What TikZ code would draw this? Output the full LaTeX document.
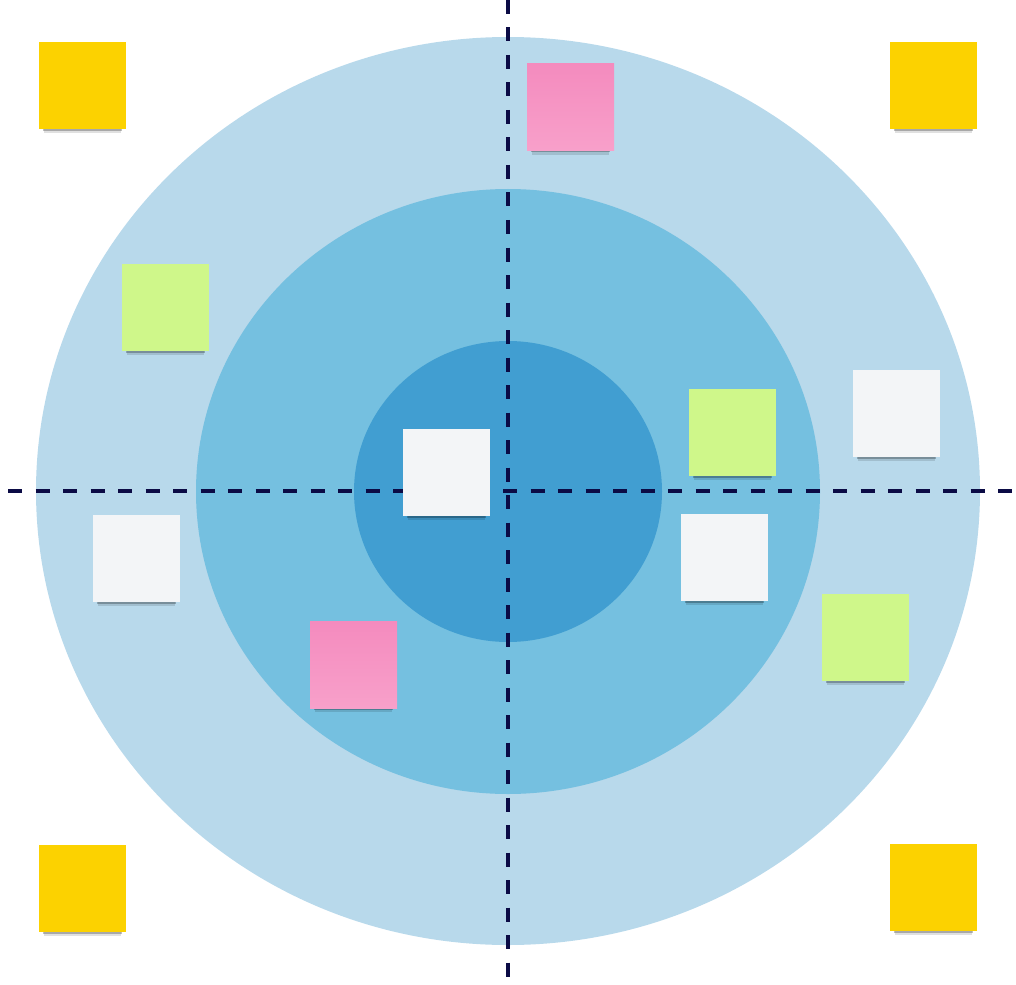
\documentclass[tikz,border=0pt]{standalone}
\usetikzlibrary{shadows}
\definecolor{ringA}{HTML}{B8D9EB}
\definecolor{ringB}{HTML}{75C0E0}
\definecolor{ringC}{HTML}{419ED1}
\definecolor{axis}{HTML}{0B0B45}
\definecolor{noteY}{HTML}{FCD200}
\definecolor{noteG}{HTML}{CFF78A}
\definecolor{noteW}{HTML}{F3F5F7}
\definecolor{notePa}{HTML}{F48BBE}
\definecolor{notePb}{HTML}{F8A0CA}
\tikzset{
  note/.style={rectangle, minimum width=87pt, minimum height=87pt, inner sep=0pt,
    drop shadow={shadow xshift=0pt, shadow yshift=-11pt, shadow scale=0.88, opacity=0.12, fill=black},
    drop shadow={shadow xshift=0pt, shadow yshift=-7pt, shadow scale=0.9, opacity=0.25, fill=black}},
  noteyellow/.style={note, fill=noteY},
  notegreen/.style={note, fill=noteG},
  notewhite/.style={note, fill=noteW},
  notepink/.style={note, top color=notePa, bottom color=notePb},
  axisline/.style={draw=axis, line width=3.5pt, dash pattern=on 14pt off 13.5pt}
}
\begin{document}
\begin{tikzpicture}[x=1pt, y=-1pt]
\useasboundingbox (0,0) rectangle (1016,984);
% rings
\fill[ringA] (508,491) ellipse [x radius=472, y radius=454];
\fill[ringB] (508,491.5) ellipse [x radius=312, y radius=302.5];
\fill[ringC] (508,491.5) ellipse [x radius=154, y radius=150.5];
% axes
\coordinate (vtop) at (508,0);
\coordinate (vbot) at (508,980);
\coordinate (hleft) at (8,491);
\coordinate (hright) at (1016,491);
\draw[axisline] (vtop) -- (vbot);
\draw[axisline] (hleft) -- (hright);
% sticky notes
\node[noteyellow] (yTL) at (82.5,85.5) {};
\node[noteyellow] (yTR) at (933.5,85.5) {};
\node[noteyellow] (yBL) at (82.5,888.5) {};
\node[noteyellow] (yBR) at (933.5,887.5) {};
\node[notepink] (pTop) at (570.5,107) {};
\node[notegreen] (gLeft) at (165.5,307.5) {};
\node[notewhite] (wRO) at (896.5,413.5) {};
\node[notegreen] (gIn) at (732.5,432.5) {};
\node[notewhite] (wC) at (446.5,472.5) {};
\node[notewhite] (wL) at (136.5,558.5) {};
\node[notewhite] (wRM) at (724.5,557.5) {};
\node[notegreen] (gRL) at (865.5,637.5) {};
\node[notepink] (pLL) at (353.5,664.5) {};
\end{tikzpicture}
\end{document}
